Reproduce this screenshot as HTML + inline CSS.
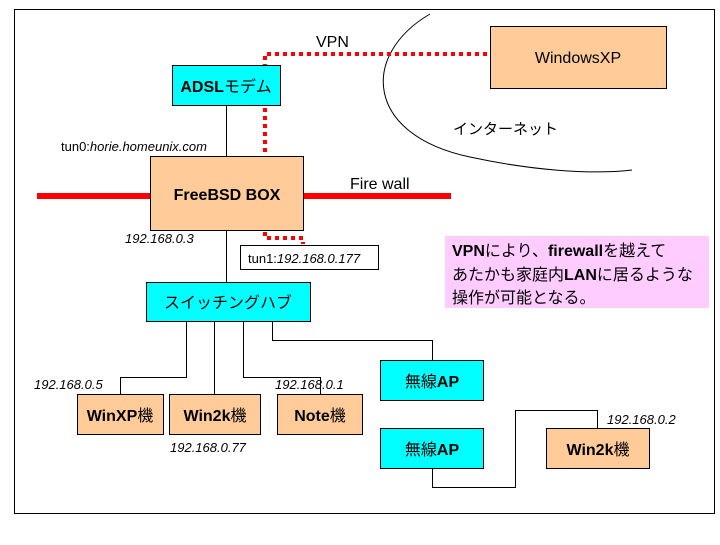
<!DOCTYPE html>
<html><head><meta charset="utf-8"><style>
body{margin:0;background:#fff;width:720px;height:540px;overflow:hidden}
svg text{font-family:"Liberation Sans","Noto Sans CJK JP",sans-serif}
</style></head><body>
<svg width="720" height="540" xmlns="http://www.w3.org/2000/svg">
<rect x="14.5" y="9.5" width="700" height="504" fill="#fff" stroke="#000"/>
<!-- internet arc -->
<path d="M430,14 C360,55 365,135 470,157 C530,170 590,175 632,170" fill="none" stroke="#000" stroke-width="1"/>
<text x="453" y="134" font-size="15">インターネット</text>
<!-- lines -->
<g stroke="#000" stroke-width="1" fill="none">
<line x1="226.5" y1="105" x2="226.5" y2="156"/>
<line x1="226.5" y1="230" x2="226.5" y2="283"/>
<polyline points="186.5,322 186.5,377.5 120.5,377.5 120.5,394"/>
<line x1="214.5" y1="322" x2="214.5" y2="394"/>
<polyline points="243.5,322 243.5,377.5 320.5,377.5 320.5,394"/>
<polyline points="272.5,322 272.5,340.5 432.5,340.5 432.5,360"/>
<polyline points="432.5,468 432.5,487.5 515.5,487.5 515.5,410.5 597.5,410.5 597.5,428"/>
</g>
<!-- firewall -->
<rect x="37" y="193" width="113" height="6" fill="#f00"/>
<rect x="303" y="193" width="148" height="6" fill="#f00"/>
<text x="350" y="189" font-size="16">Fire wall</text>
<!-- VPN dotted -->
<g stroke="#f00" stroke-width="4" stroke-dasharray="4,4" fill="none">
<polyline points="265,100 265,54 490,54"/>
<line x1="265" y1="108" x2="265" y2="154"/>
<polyline points="265,232 265,238 303,238 303,244"/>
</g>
<text x="316" y="47" font-size="16">VPN</text>
<!-- boxes -->
<rect x="172.5" y="65.5" width="108" height="40" fill="#0ff" stroke="#000"/>
<text x="226" y="92" font-size="16" font-weight="bold" text-anchor="middle">ADSL<tspan font-weight="normal">モデム</tspan></text>
<rect x="150.5" y="156.5" width="153" height="74" fill="#fc9" stroke="#000"/>
<text x="227" y="200" font-size="16" font-weight="bold" text-anchor="middle">FreeBSD BOX</text>
<rect x="490.5" y="26.5" width="176" height="62" fill="#fc9" stroke="#000"/>
<text x="578" y="63" font-size="16" text-anchor="middle">WindowsXP</text>
<text x="61" y="151" font-size="13">tun0:<tspan font-style="italic">horie.homeunix.com</tspan></text>
<text x="125" y="243" font-size="13" font-style="italic">192.168.0.3</text>
<rect x="240.5" y="245.5" width="138" height="24" fill="#fff" stroke="#000"/>
<text x="248" y="263" font-size="13">tun1:<tspan font-style="italic">192.168.0.177</tspan></text>
<rect x="445" y="236" width="264" height="72" fill="#fcf"/>
<text x="452" y="256" font-size="16"><tspan font-weight="bold">VPN</tspan>により、<tspan font-weight="bold">firewall</tspan>を越えて</text>
<text x="452" y="280" font-size="16">あたかも家庭内<tspan font-weight="bold">LAN</tspan>に居るような</text>
<text x="452" y="303" font-size="16">操作が可能となる。</text>
<rect x="146.5" y="282.5" width="164" height="39" fill="#0ff" stroke="#000"/>
<text x="228" y="308" font-size="16" text-anchor="middle">スイッチングハブ</text>
<rect x="77.5" y="394.5" width="86" height="40" fill="#fc9" stroke="#000"/>
<text x="120" y="421" font-size="16" font-weight="bold" text-anchor="middle">WinXP<tspan font-weight="normal">機</tspan></text>
<rect x="169.5" y="394.5" width="91" height="40" fill="#fc9" stroke="#000"/>
<text x="215" y="421" font-size="16" font-weight="bold" text-anchor="middle">Win2k<tspan font-weight="normal">機</tspan></text>
<rect x="277.5" y="394.5" width="85" height="40" fill="#fc9" stroke="#000"/>
<text x="320" y="421" font-size="16" font-weight="bold" text-anchor="middle">Note<tspan font-weight="normal">機</tspan></text>
<rect x="380.5" y="360.5" width="103" height="40" fill="#0ff" stroke="#000"/>
<text x="432" y="387" font-size="16" font-weight="bold" text-anchor="middle"><tspan font-weight="normal">無線</tspan>AP</text>
<rect x="380.5" y="428.5" width="103" height="40" fill="#0ff" stroke="#000"/>
<text x="432" y="455" font-size="16" font-weight="bold" text-anchor="middle"><tspan font-weight="normal">無線</tspan>AP</text>
<rect x="546.5" y="428.5" width="103" height="40" fill="#fc9" stroke="#000"/>
<text x="598" y="455" font-size="16" font-weight="bold" text-anchor="middle">Win2k<tspan font-weight="normal">機</tspan></text>
<g font-size="13" font-style="italic">
<text x="34" y="389">192.168.0.5</text>
<text x="275" y="389">192.168.0.1</text>
<text x="170" y="452">192.168.0.77</text>
<text x="607" y="424">192.168.0.2</text>
</g>
</svg>
</body></html>
